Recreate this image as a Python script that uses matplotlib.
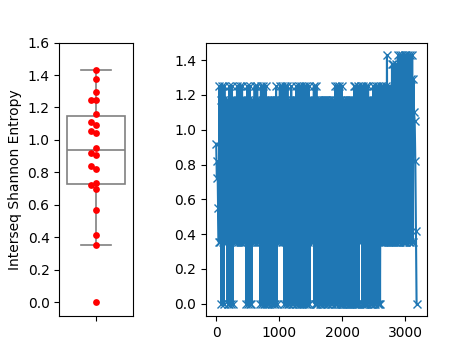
import numpy as np
import matplotlib
matplotlib.use('Agg')
import matplotlib.pyplot as plt

# per-sequence entropy values (left panel)
entropy_values = [0.0, 0.353, 0.415, 0.570, 0.700, 0.724, 0.733, 0.821, 0.837,
                  0.907, 0.921, 0.950, 1.043, 1.055, 1.092, 1.108, 1.162,
                  1.244, 1.244, 1.293, 1.376, 1.429]

# position series (right panel): one code per 10 positions
level_codes = '0123456789abcde'
level_values = [0.0, 0.353, 0.415, 0.55, 0.57, 0.72, 0.82, 0.92, 1.05, 1.10,
                1.17, 1.25, 1.29, 1.38, 1.43]
series_codes = (
    '75631b1a0b' '1a0b1a1a0a' '0b1a0b0a1a' '1a1b1a2b1a' '1b1a1a1a0b'
    '0a1b0a0a1a' '1b1a1b1a1a' '0b0a1b0a0b' '0a1a0a1a0a' '1a0a0b0a1a'
    '1b1a1b1a0b' '0a1b0a0a1b' '0a0a1a0b0a' '1b0a0b0a1b' '0a0b0a1b0a'
    '1a1a1b0a0b' '0a1a0a0a1a' '0a0a1a0a0a' '1a0a0a1a0b' '0b0a1b0a0b'
    '0a0a0a0a0a' '0a0a0a0a0b' '0b0a0b0a1b' '1a0b0a0b0a' '0b1a0a0a0b'
    '0a0b1a0b0a' '0b1a1b1a1b' '1e1a1b1a1d' '1d1b1d1a1e' '1e1d5e1b1e'
    '1e1d6e1e1c' '1e1c98620'
)
series_step = 10

series_y = [level_values[level_codes.index(c)] for c in series_codes]
series_x = np.arange(len(series_y)) * series_step

fig, (ax1, ax2) = plt.subplots(1, 2, figsize=(4.74, 3.55), dpi=100,
                               gridspec_kw={'width_ratios': [1, 3], 'wspace': 0.5})

# 1) boxplot + swarm
ax1.boxplot(entropy_values, positions=[0], widths=0.8, capwidths=0.4,
            patch_artist=True, showfliers=False,
            boxprops=dict(facecolor='white', edgecolor='#808080', linewidth=1.2),
            medianprops=dict(color='#808080', linewidth=1.2),
            whiskerprops=dict(color='#808080', linewidth=1.2),
            capprops=dict(color='#808080', linewidth=1.2))

ax1.set_xlim(-0.5, 0.5)
ax1.set_ylim(-0.085, 1.6)

# simple beeswarm offsets (in pixels -> data)
dot_px = 5.2
x_scale = 74.0   # px per x unit
y_scale = 162.0  # px per y unit
placed = []
for v in sorted(entropy_values):
    for k in [0, -1, 1, -2, 2, -3, 3]:
        cx = k * dot_px
        ok = all(np.hypot(cx - px, (v - pv) * y_scale) >= dot_px for px, pv in placed)
        if ok:
            placed.append((cx, v))
            break
swarm_x = [p[0] / x_scale for p in placed]
swarm_y = [p[1] for p in placed]
ax1.scatter(swarm_x, swarm_y, s=24, color='red', zorder=3, linewidths=0)
ax1.set_xticks([0])
ax1.set_xticklabels([''])
ax1.set_yticks(np.arange(0, 1.61, 0.2))
ax1.set_ylabel('Interseq Shannon Entropy')

# 2) series over positions
ax2.plot(series_x, series_y, marker='x')

plt.savefig('out.png')
